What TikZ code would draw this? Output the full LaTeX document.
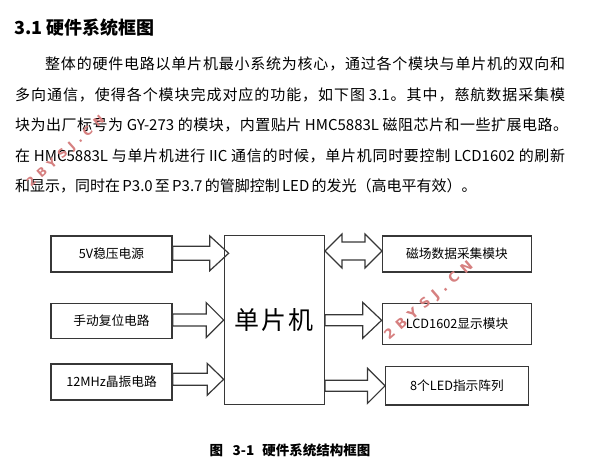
\documentclass[tikz,border=0pt]{standalone}
\usepackage{fontspec}
\setmainfont{Noto Sans CJK SC}
\newfontfamily\wmfont[LetterSpace=45]{DejaVu Sans}
\usetikzlibrary{calc,backgrounds}
\definecolor{wmc}{RGB}{214,128,128}
\definecolor{lin}{RGB}{55,55,55}
\XeTeXinterchartokenstate=1
\newcount\cjkcnt
\cjkcnt="4E00
\loop \XeTeXcharclass\cjkcnt=1 \advance\cjkcnt by 1 \ifnum\cjkcnt<"A000 \repeat
\XeTeXcharclass"FF0C=3
\XeTeXcharclass"3002=3
\XeTeXcharclass"FF09=3
\XeTeXcharclass"FF08=2
\def\cg{\hskip 0pt plus 3pt\relax}
\XeTeXinterchartoks 1 1 = {\cg}
\XeTeXinterchartoks 1 2 = {\cg}
\XeTeXinterchartoks 1 3 = {\cg}
\XeTeXinterchartoks 2 1 = {\cg}
\XeTeXinterchartoks 3 1 = {\cg}
\XeTeXinterchartoks 3 2 = {\cg}
\XeTeXinterchartoks 3 3 = {\cg}
\XeTeXinterchartoks 0 1 = {\cg}
\XeTeXinterchartoks 1 0 = {\cg}
\XeTeXinterchartoks 3 0 = {\cg}
\XeTeXinterchartoks 0 3 = {\cg}
\XeTeXinterchartoks 0 2 = {\cg}
\newcommand\rarrow[5]{\draw[barrow] let \p1=(#1), \p2=(#2) in
  (\x1,\y2+#3) -- (\x2-#5,\y2+#3) -- (\x2-#5,\y2+#4) -- (\x2,\y2)
  -- (\x2-#5,\y2-#4) -- (\x2-#5,\y2-#3) -- (\x1,\y2-#3) -- cycle;}
\newcommand\darrow[5]{\draw[barrow] let \p1=(#1), \p2=(#2) in
  (\x1,\y2) -- (\x1+#5,\y2+#4) -- (\x1+#5,\y2+#3) -- (\x2-#5,\y2+#3)
  -- (\x2-#5,\y2+#4) -- (\x2,\y2) -- (\x2-#5,\y2-#4) -- (\x2-#5,\y2-#3)
  -- (\x1+#5,\y2-#3) -- (\x1+#5,\y2-#4) -- cycle;}
\tikzset{
  box/.style={draw=lin, line width=1.3pt, inner sep=0pt,
    font=\fontsize{12.7}{14}\selectfont},
  barrow/.style={draw=lin, line width=1.2pt, fill=white, line join=miter},
  body/.style={anchor=west, inner sep=0pt, font=\fontsize{15}{17}\selectfont},
  wm/.style={text=wmc, inner sep=0pt, font=\wmfont\bfseries},
}
\begin{document}
\begin{tikzpicture}[x=1pt,y=-1pt]
\useasboundingbox (0,0) rectangle (591,468);
% text
\node[anchor=west, inner sep=0pt, font=\fontsize{18}{20}\selectfont\bfseries] (h) at (14,28) {3.1 硬件系统框图};
\node[body] (l1) at (45,64) {\makebox[520pt][s]{整体的硬件电路以单片机最小系统为核心，通过各个模块与单片机的双向和}};
\node[body] (l2) at (15,95) {\makebox[550pt][s]{多向通信，使得各个模块完成对应的功能，如下图 3.1。其中，慈航数据采集模}};
\node[body] (l3) at (15,125) {\makebox[553pt][s]{块为出厂标号为 GY-273 的模块，内置贴片 HMC5883L 磁阻芯片和一些扩展电路。}};
\node[body] (l4) at (15,156) {\makebox[550pt][s]{在 HMC5883L 与单片机进行 IIC 通信的时候，单片机同时要控制 LCD1602 的刷新}};
\node[body] (l5) at (15,186) {\makebox[428pt][s]{和显示，同时在 P3.0 至 P3.7 的管脚控制 LED 的发光（高电平有效）。}};
% boxes
\node[box, minimum width=121pt, minimum height=36pt] (b1) at (111.5,254) {5V稳压电源};
\node[box, minimum width=121pt, minimum height=35pt] (b2) at (111.5,320.7) {手动复位电路};
\node[box, minimum width=121pt, minimum height=36pt] (b3) at (111.5,382) {12MHz晶振电路};
\node[box, minimum width=100pt, minimum height=169pt, font=\fontsize{25}{27}\selectfont] (mcu) at (274.3,320.3) {单\hspace{0.08em}片\hspace{0.08em}机};
\node[box, minimum width=149.4pt, minimum height=36pt] (m1) at (457,254) {磁场数据采集模块};
\node[box, minimum width=149.4pt, minimum height=41pt] (m2) at (457,323.8) {LCD1602显示模块};
\node[box, minimum width=142.6pt, minimum height=38.3pt] (m3) at (457,385.8) {8个LED指示阵列};
% tip coordinates
\path (mcu.west |- b1.east) ++(5,-0.7) coordinate (t1);
\path (mcu.west |- b2.east) ++(0,-0.7) coordinate (t2);
\path (mcu.west |- b3.east) ++(0,-2.7) coordinate (t3);
\path (m1.west) ++(0.4,-3) coordinate (t4);
\coordinate (t5) at (m2.west |- mcu.east);
\coordinate (t6) at (m3.west);
\begin{pgfonlayer}{background}
\rarrow{b1.east}{t1}{7pt}{17.5pt}{19pt}
\rarrow{b2.east}{t2}{6pt}{17.5pt}{17.5pt}
\rarrow{b3.east}{t3}{6pt}{16pt}{16.5pt}
\darrow{mcu.east}{t4}{9pt}{17pt}{17pt}
\rarrow{mcu.east}{t5}{5.5pt}{18pt}{19pt}
\rarrow{mcu.east}{t6}{5.5pt}{17.5pt}{17.5pt}
\end{pgfonlayer}
% caption
\node[inner sep=0pt, font=\fontsize{13.5}{15}\selectfont\bfseries] (cap) at (290,450) {图\hspace{0.7em}3-1\hspace{0.6em}硬件系统结构框图};
% watermarks
\node[wm, rotate=42, font=\wmfont\bfseries\fontsize{12}{13}\selectfont] (w1) at (66,152) {2BYSJ.CN};
\node[wm, rotate=41, font=\wmfont\bfseries\fontsize{13.5}{15}\selectfont] (w2) at (429,301) {2BYSJ.CN};
\end{tikzpicture}
\end{document}
